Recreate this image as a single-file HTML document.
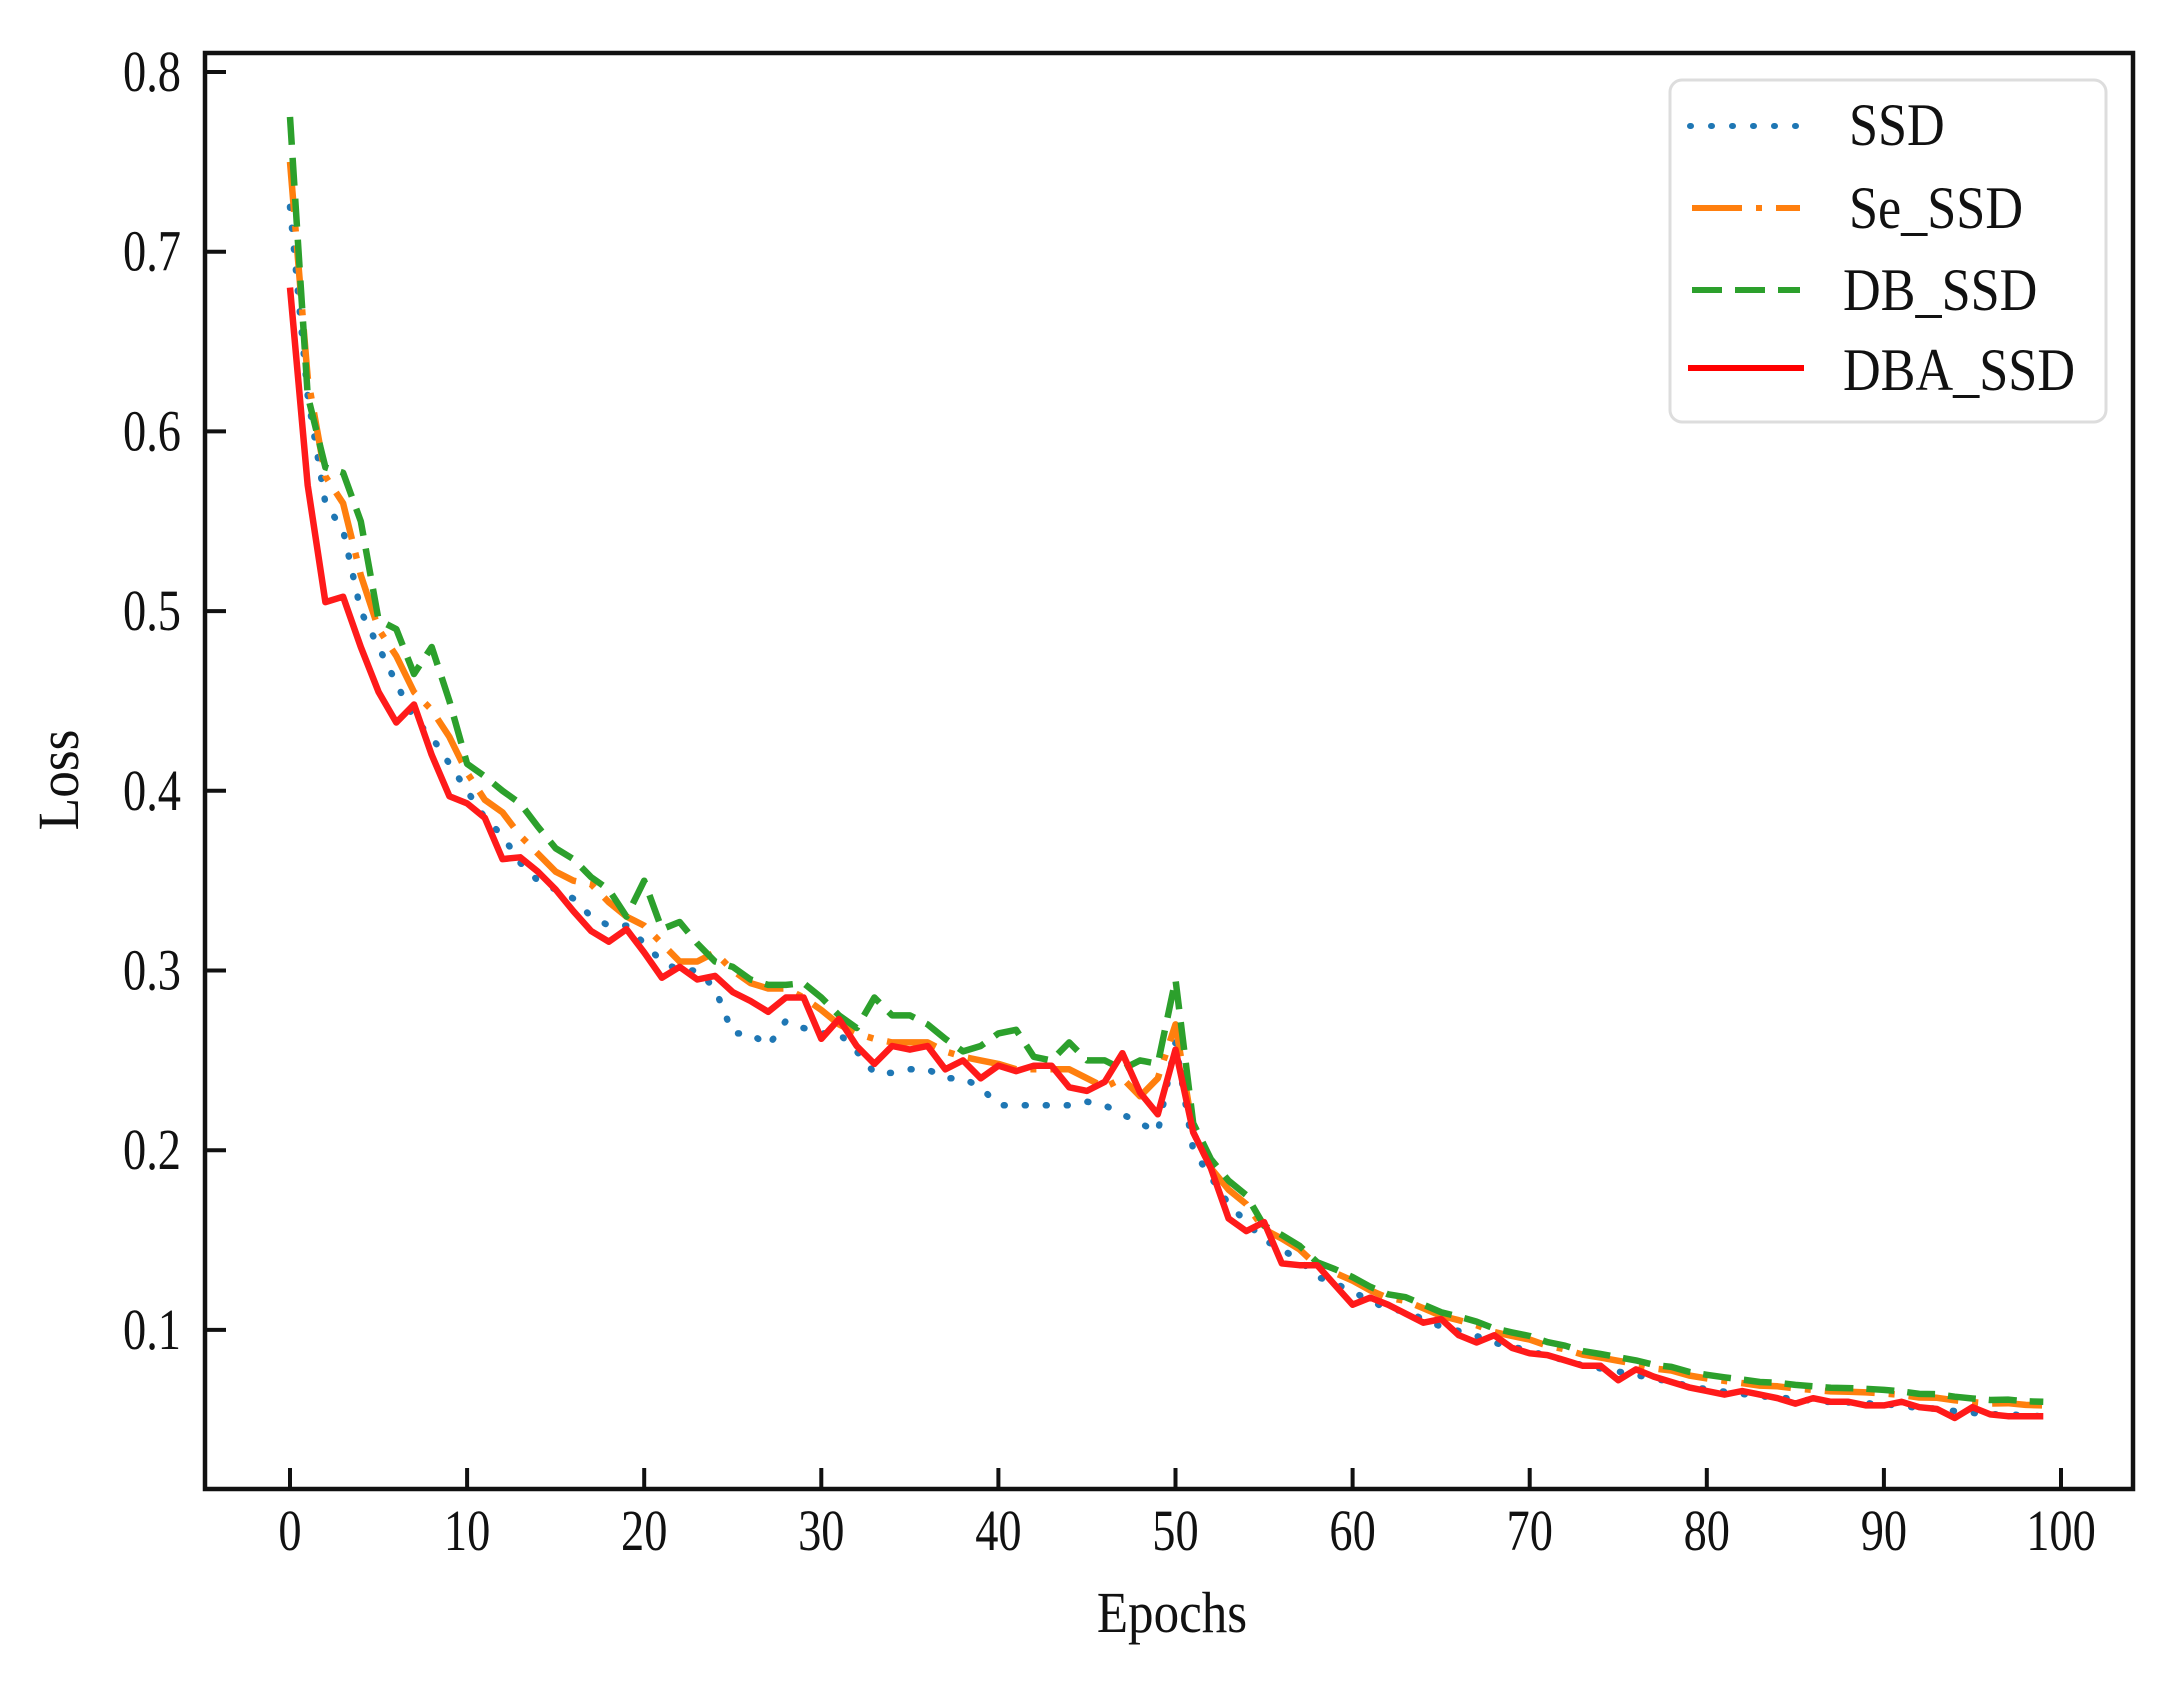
<!DOCTYPE html>
<html><head><meta charset="utf-8"><style>
html,body{margin:0;padding:0;background:#fff;}
svg{display:block;}
text{font-family:"Liberation Serif",serif;fill:#111;}
</style></head><body>
<svg id="s" width="2177" height="1695" viewBox="0 0 2177 1695" xmlns="http://www.w3.org/2000/svg">
<rect x="0" y="0" width="2177" height="1695" fill="#fff"/>
<g id="series" fill="none" stroke-width="6.5" stroke-linejoin="round"></g>
<rect x="205" y="53" width="1928" height="1436" fill="none" stroke="#111" stroke-width="4.5"/>
<g id="ticks" stroke="#111" stroke-width="4"></g>
<g id="labels"></g>
<text x="1172" y="1632" font-size="58" text-anchor="middle" transform="translate(1172 0) scale(0.88 1) translate(-1172 0)">Epochs</text>
<text x="0" y="0" font-size="58" text-anchor="middle" transform="translate(78 780) rotate(-90) scale(0.92 1)">Loss</text>
<rect x="1670" y="80" width="436" height="342" rx="12" fill="#fff" fill-opacity="0.85" stroke="#ddd" stroke-width="3"/>
<line x1="1690" y1="126" x2="1800" y2="126" stroke="#1f77b4" stroke-width="6" stroke-dasharray="1 20" stroke-linecap="round"/>
<line x1="1692" y1="208" x2="1800" y2="208" stroke="#ff7f0e" stroke-width="6" stroke-dasharray="50 14 6 14 24 30"/>
<line x1="1692" y1="290" x2="1800" y2="290" stroke="#2ca02c" stroke-width="6" stroke-dasharray="30 13"/>
<line x1="1688" y1="368" x2="1804" y2="368" stroke="#ff0000" stroke-width="6"/>
<g font-size="60">
<text transform="translate(1849 145) scale(0.87 1)">SSD</text>
<text transform="translate(1849 228) scale(0.87 1)">Se_SSD</text>
<text transform="translate(1843 310) scale(0.87 1)">DB_SSD</text>
<text transform="translate(1843 390) scale(0.87 1)">DBA_SSD</text>
</g>
</svg>
<script>
var NS="http://www.w3.org/2000/svg";
function X(e){return 290+e*17.71;}
function Y(v){return 72+(0.8-v)*1797;}
var red=[0.68,0.57,0.505,0.508,0.48,0.455,0.438,0.448,0.42,0.397,0.393,0.385,0.362,0.363,0.355,0.345,0.333,0.322,0.316,0.323,0.31,0.296,0.302,0.295,0.297,0.288,0.283,0.277,0.285,0.285,0.262,0.273,0.258,0.248,0.258,0.256,0.258,0.245,0.25,0.24,0.247,0.244,0.247,0.247,0.235,0.233,0.238,0.254,0.232,0.22,0.256,0.21,0.19,0.162,0.155,0.16,0.137,0.136,0.136,0.125,0.114,0.118,0.114,0.109,0.104,0.106,0.097,0.093,0.097,0.09,0.087,0.086,0.083,0.08,0.08,0.072,0.078,0.074,0.071,0.068,0.066,0.064,0.066,0.064,0.062,0.059,0.062,0.06,0.06,0.058,0.058,0.06,0.057,0.056,0.051,0.057,0.053,0.052,0.052,0.052];
var green0=[0.775,0.62,0.58,0.577,0.55,0.495,0.49,0.465,0.48,0.45,0.415,0.408,0.40,0.393,0.38,0.368,0.362,0.352,0.345,0.33,0.35,0.323,0.327,0.315,0.305,0.302,0.295,0.292,0.292,0.293,0.285,0.275,0.268,0.285,0.275,0.275,0.27,0.262,0.255,0.258,0.265,0.267,0.252,0.25,0.26,0.25,0.25,0.245,0.25,0.248,0.295,0.215,0.195,0.183,0.175];
var orange0=[0.75,0.63,0.575,0.56,0.52,0.49,0.475,0.455,0.445,0.43,0.41,0.395,0.388,0.375,0.365,0.355,0.35,0.348,0.338,0.33,0.325,0.315,0.305,0.305,0.31,0.3,0.293,0.29,0.29,0.285,0.278,0.27,0.265,0.262,0.26,0.26,0.26,0.255,0.252,0.25,0.248,0.245,0.245,0.245,0.245,0.24,0.235,0.24,0.23,0.24,0.27,0.21,0.19,0.178,0.17];
var blue0=[0.725,0.62,0.56,0.545,0.5,0.48,0.46,0.44,0.43,0.415,0.4,0.385,0.375,0.36,0.35,0.345,0.34,0.33,0.325,0.325,0.315,0.305,0.3,0.3,0.29,0.265,0.265,0.258,0.272,0.268,0.265,0.265,0.255,0.243,0.243,0.245,0.245,0.24,0.24,0.235,0.225,0.225,0.225,0.225,0.225,0.227,0.225,0.22,0.215,0.21,0.26,0.2,0.185,0.17,0.16];
function ext(a,off){var r=a.slice();for(var i=a.length;i<100;i++){var s=red.slice(Math.max(0,i-2),i+3);var m=s.reduce(function(p,c){return p+c;},0)/s.length;r.push(m+off);}return r;}
var green=ext(green0,0.008),orange=ext(orange0,0.006),blue=ext(blue0,0.0);
function path(d,col,dash,cap){var p=document.createElementNS(NS,"polyline");var pts=d.map(function(v,i){return X(i).toFixed(1)+","+Y(v).toFixed(1);}).join(" ");p.setAttribute("points",pts);p.setAttribute("stroke",col);if(dash)p.setAttribute("stroke-dasharray",dash);if(cap)p.setAttribute("stroke-linecap",cap);document.getElementById("series").appendChild(p);}
path(blue,"#1f77b4","1 20","round");
path(orange,"#ff7f0e","50 14 6 14");
path(green,"#2ca02c","28 13");
path(red,"#ff1a1a");
var t=document.getElementById("ticks"),L=document.getElementById("labels");
function ln(a,b,c,d){var l=document.createElementNS(NS,"line");l.setAttribute("x1",a);l.setAttribute("y1",b);l.setAttribute("x2",c);l.setAttribute("y2",d);t.appendChild(l);}
function tx(x,y,s,anchor){var e=document.createElementNS(NS,"text");e.setAttribute("font-size","58");e.setAttribute("text-anchor",anchor);e.setAttribute("transform","translate("+x+" "+y+") scale(0.8 1)");e.textContent=s;L.appendChild(e);}
for(var i=0;i<=10;i++){var x=X(i*10);ln(x,1489,x,1468);tx(x,1550,String(i*10),"middle");}
for(var k=1;k<=8;k++){var v=k/10,y=Y(v);ln(205,y,226,y);tx(181,y+19,v.toFixed(1),"end");}
</script>
</body></html>
